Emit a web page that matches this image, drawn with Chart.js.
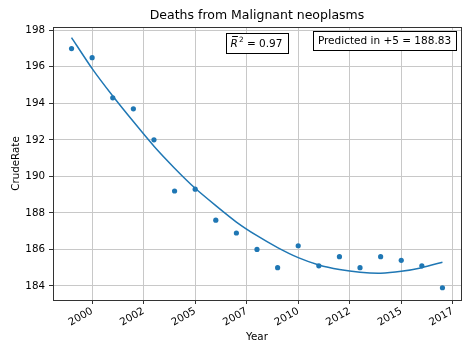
<!DOCTYPE html>
<html>
<head>
<meta charset="utf-8">
<script src="https://cdn.jsdelivr.net/npm/chart.js@4/dist/chart.umd.min.js"></script>
<style>
html,body{margin:0;padding:0;background:#fff;}
canvas{display:block;}
</style>
</head>
<body>
<canvas id="c" width="474" height="355"></canvas>
<script>
const years = [1999,2000,2001,2002,2003,2004,2005,2006,2007,2008,2009,2010,2011,2012,2013,2014,2015,2016,2017];
const crudeRate = [197.0,196.5,194.3,193.7,192.0,189.2,189.3,187.6,186.9,186.0,185.0,186.2,185.1,185.6,185.0,185.6,185.4,185.1,183.9];
const fittedRate = [197.6,195.9,194.4,193.0,191.65,190.45,189.35,188.4,187.5,186.75,186.1,185.55,185.15,184.9,184.75,184.7,184.8,185.0,185.3];
const xTickValues = [2000,2002.5,2005,2007.5,2010,2012.5,2015,2017.5];
const xTickLabels = ['2000','2002','2005','2007','2010','2012','2015','2017'];
const yTickValues = [184,186,188,190,192,194,196,198];
const titleText = 'Deaths from Malignant neoplasms';
const r2Value = '0.97';
const predictedText = 'Predicted in +5 = 188.83';

const FAM = '"DejaVu Sans", sans-serif';
const blue = '#1f77b4';

const boxPlugin = {
  id: 'boxPlugin',
  afterDraw(chart) {
    const ctx = chart.ctx;
    const a = chart.chartArea;
    ctx.save();
    ctx.strokeStyle = '#333';
    ctx.lineWidth = 1;
    ctx.strokeRect(Math.round(a.left) + 0.5, Math.round(a.top) + 0.5, Math.round(a.right - a.left), Math.round(a.bottom - a.top));

    // Title centred over the plot area
    ctx.fillStyle = '#000';
    ctx.textAlign = 'center';
    ctx.textBaseline = 'middle';
    ctx.font = '12.5px ' + FAM;
    ctx.fillText(titleText, (a.left + a.right) / 2, 16);

    // Box 1: R-bar squared
    const fs = 10.5;
    ctx.font = 'italic ' + fs + 'px ' + FAM;
    const wR = ctx.measureText('R').width;
    ctx.font = (fs * 0.7) + 'px ' + FAM;
    const w2 = ctx.measureText('2').width;
    ctx.font = fs + 'px ' + FAM;
    const rest = ' = ' + r2Value;
    const wRest = ctx.measureText(rest).width;
    const total = wR + w2 + 1 + wRest;
    const cx1 = 256.5, cy1 = 43;
    const bw1 = total + 10, bh1 = 20;
    ctx.fillStyle = '#fff';
    ctx.fillRect(Math.round(cx1 - bw1 / 2) + 0.5, Math.round(cy1 - bh1 / 2) + 0.5, Math.round(bw1), bh1);
    ctx.strokeStyle = '#000';
    ctx.strokeRect(Math.round(cx1 - bw1 / 2) + 0.5, Math.round(cy1 - bh1 / 2) + 0.5, Math.round(bw1), bh1);
    ctx.fillStyle = '#000';
    let x = cx1 - total / 2;
    ctx.textAlign = 'left';
    ctx.font = 'italic ' + fs + 'px ' + FAM;
    ctx.fillText('R', x, cy1 + 1);
    ctx.fillRect(x + 1.5, cy1 - 7, wR - 1.5, 1);
    x += wR + 1;
    ctx.font = (fs * 0.7) + 'px ' + FAM;
    ctx.fillText('2', x, cy1 - 3);
    x += w2;
    ctx.font = fs + 'px ' + FAM;
    ctx.fillText(rest, x, cy1 + 1);

    // Box 2: predicted
    ctx.font = fs + 'px ' + FAM;
    const wp = ctx.measureText(predictedText).width;
    const cx2 = 384.5, cy2 = 40.5;
    const bw2 = wp + 10, bh2 = 19;
    ctx.fillStyle = '#fff';
    ctx.fillRect(Math.round(cx2 - bw2 / 2) + 0.5, Math.round(cy2 - bh2 / 2) + 0.5, Math.round(bw2), bh2);
    ctx.strokeRect(Math.round(cx2 - bw2 / 2) + 0.5, Math.round(cy2 - bh2 / 2) + 0.5, Math.round(bw2), bh2);
    ctx.fillStyle = '#000';
    ctx.textAlign = 'center';
    ctx.fillText(predictedText, cx2, cy2 + 0.5);
    ctx.restore();
  }
};

new Chart(document.getElementById('c'), {
  type: 'scatter',
  data: {
    datasets: [
      {
        type: 'line',
        data: years.map((y, i) => ({x: y, y: fittedRate[i]})),
        borderColor: blue,
        borderWidth: 1.5,
        pointRadius: 0,
        fill: false,
        tension: 0.2,
        order: 2
      },
      {
        type: 'scatter',
        data: years.map((y, i) => ({x: y, y: crudeRate[i]})),
        backgroundColor: blue,
        borderColor: blue,
        borderWidth: 0,
        pointRadius: 2.6,
        order: 1
      }
    ]
  },
  options: {
    responsive: false,
    animation: false,
    devicePixelRatio: 1,
    layout: {padding: {left: 0, right: 13, top: 27, bottom: 0}},
    plugins: {
      legend: {display: false},
      tooltip: {enabled: false},
      title: {display: false}
    },
    scales: {
      x: {
        type: 'linear',
        min: 1998.1,
        max: 2017.9,
        afterBuildTicks: s => { s.ticks = xTickValues.map(v => ({value: v})); },
        afterFit: s => { s.height = 55; },
        ticks: {
          autoSkip: false,
          minRotation: 30,
          maxRotation: 30,
          color: '#000',
          font: {family: FAM, size: 10.3},
          padding: 1,
          callback: (v, i) => xTickLabels[i]
        },
        grid: {color: '#c8c8c8', lineWidth: 1, tickColor: '#333', tickLength: 4},
        border: {color: '#333'},
        title: {display: true, text: 'Year', color: '#000', font: {family: FAM, size: 10.3}, padding: {top: 0, bottom: 11}}
      },
      y: {
        min: 183.23,
        max: 198.18,
        afterBuildTicks: s => { s.ticks = yTickValues.map(v => ({value: v})); },
        afterFit: s => { s.width = 53; },
        ticks: {
          color: '#000',
          font: {family: FAM, size: 10.3},
          padding: 4,
          callback: v => String(v)
        },
        grid: {color: '#c8c8c8', lineWidth: 1, tickColor: '#333', tickLength: 4},
        border: {color: '#333'},
        title: {display: true, text: 'CrudeRate', color: '#000', font: {family: FAM, size: 10.3}, padding: {top: 10, bottom: 0}}
      }
    }
  },
  plugins: [boxPlugin]
});
</script>
</body>
</html>
